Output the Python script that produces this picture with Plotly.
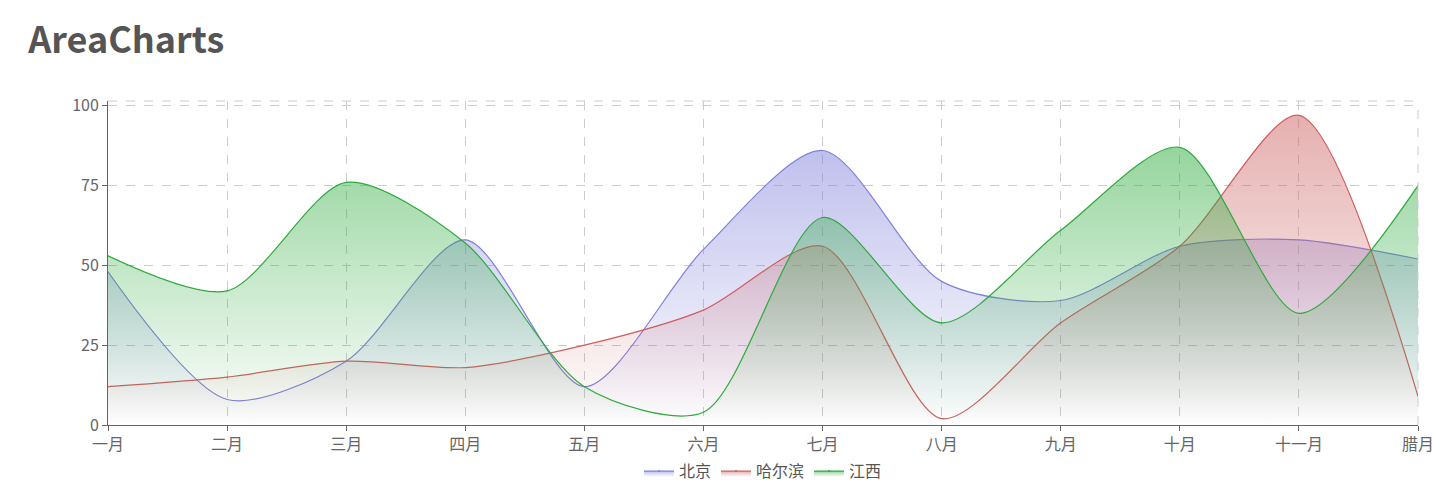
import plotly.graph_objects as go

months = ["一月", "二月", "三月", "四月", "五月", "六月", "七月", "八月", "九月", "十月", "十一月", "腊月"]
beijing = [48, 8, 20, 58, 12, 55, 86, 45, 39, 56, 58, 52]
harbin = [12, 15, 20, 18, 25, 36, 56, 2, 32, 56, 97, 9]
jiangxi = [53, 42, 76, 57, 12, 4, 65, 32, 61, 87, 35, 75]

series = [
    ("北京", beijing, (128, 128, 220)),
    ("哈尔滨", harbin, (204, 96, 96)),
    ("江西", jiangxi, (44, 170, 60)),
]

fig = go.Figure()
for name, values, (r, g, b) in series:
    fig.add_trace(go.Scatter(
        x=months, y=values, name=name,
        mode="lines+markers",
        line=dict(color=f"rgb({r},{g},{b})", width=1.2, shape="spline", smoothing=0.8),
        marker=dict(size=1, color=f"rgb({r},{g},{b})"),
        fill="tozeroy",
        fillgradient=dict(
            type="vertical",
            colorscale=[[0, f"rgba({r},{g},{b},0)"], [1, f"rgba({r},{g},{b},0.5)"]],
        ),
    ))

axis_common = dict(
    showgrid=True, gridcolor="#cccccc", griddash="dash", gridwidth=1,
    showline=True, linecolor="#666666", linewidth=1, automargin=False,
    tickfont=dict(size=16, color="#666666"), zeroline=False,
)

fig.update_layout(
    width=1440, height=495,
    title=dict(text="<b>AreaCharts</b>", x=0.014, y=0.96, xanchor="left",
               font=dict(size=36, color="#555555", family="Noto Sans CJK SC")),
    font=dict(family="Noto Sans CJK SC", color="#555555"),
    margin=dict(l=100, r=30, t=93, b=78),
    plot_bgcolor="white", paper_bgcolor="white",
    showlegend=True,
    legend=dict(orientation="h", x=0.5, xanchor="center", y=-0.09, yanchor="top",
                font=dict(size=16, color="#555555")),
    xaxis=dict(range=[0, 11], ticks="outside", ticklen=5, tickcolor="#666666",
               **axis_common),
    yaxis=dict(range=[0, 101.5], tickvals=[0, 25, 50, 75, 100], ticks="outside",
               ticklen=5, tickcolor="#666666", **axis_common),
    shapes=[
        dict(type="line", xref="paper", yref="paper", x0=0, x1=1, y0=1, y1=1,
             line=dict(color="#cccccc", width=1, dash="dash")),
        dict(type="line", xref="paper", yref="paper", x0=1, x1=1, y0=0, y1=1,
             line=dict(color="#cccccc", width=1, dash="dash")),
    ],
)

fig.write_html("out.html")
